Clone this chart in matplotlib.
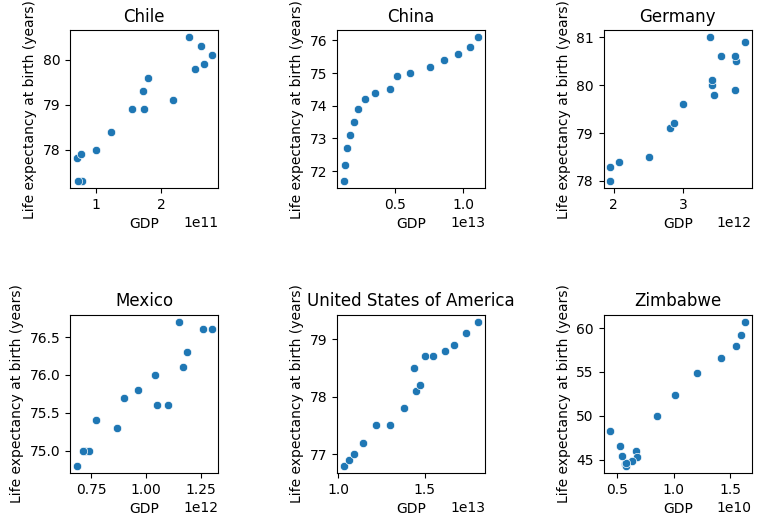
import matplotlib
matplotlib.use("Agg")
import matplotlib.pyplot as plt
import seaborn as sns
import pandas as pd

countries = ["Chile", "China", "Germany", "Mexico",
             "United States of America", "Zimbabwe"]

# GDP per year 2000-2015
chile_gdp = [7.786e10, 7.098e10, 6.974e10, 7.564e10, 9.921e10, 1.229e11, 1.547e11, 1.737e11,
             1.791e11, 1.723e11, 2.185e11, 2.520e11, 2.670e11, 2.780e11, 2.610e11, 2.430e11]
chile_le = [77.3, 77.3, 77.8, 77.9, 78.0, 78.4, 78.9, 78.9,
            79.6, 79.3, 79.1, 79.8, 79.9, 80.1, 80.3, 80.5]

china_gdp = [1.211e12, 1.339e12, 1.471e12, 1.660e12, 1.955e12, 2.286e12, 2.752e12, 3.552e12,
             4.598e12, 5.110e12, 6.100e12, 7.570e12, 8.560e12, 9.610e12, 1.050e13, 1.110e13]
china_le = [71.7, 72.2, 72.7, 73.1, 73.5, 73.9, 74.2, 74.4,
            74.5, 74.9, 75.0, 75.2, 75.4, 75.6, 75.8, 76.1]

germany_gdp = [1.95e12, 1.95e12, 2.08e12, 2.50e12, 2.81e12, 2.86e12, 3.00e12, 3.44e12,
               3.75e12, 3.42e12, 3.42e12, 3.76e12, 3.54e12, 3.75e12, 3.89e12, 3.38e12]
germany_le = [78.0, 78.3, 78.4, 78.5, 79.1, 79.2, 79.6, 79.8,
              79.9, 80.0, 80.1, 80.5, 80.6, 80.6, 80.9, 81.0]

mexico_gdp = [6.84e11, 7.24e11, 7.41e11, 7.13e11, 7.70e11, 8.66e11, 9.65e11, 1.04e12,
              1.10e12, 9.00e11, 1.05e12, 1.17e12, 1.19e12, 1.26e12, 1.30e12, 1.15e12]
mexico_le = [74.8, 75.0, 75.0, 75.0, 75.4, 75.3, 75.8, 76.0,
             75.6, 75.7, 75.6, 76.1, 76.3, 76.6, 76.6, 76.7]

usa_gdp = [1.03e13, 1.06e13, 1.09e13, 1.14e13, 1.22e13, 1.30e13, 1.38e13, 1.45e13,
           1.47e13, 1.44e13, 1.50e13, 1.55e13, 1.62e13, 1.67e13, 1.74e13, 1.81e13]
usa_le = [76.8, 76.9, 77.0, 77.2, 77.5, 77.5, 77.8, 78.1,
          78.2, 78.5, 78.7, 78.7, 78.8, 78.9, 79.1, 79.3]

zimbabwe_gdp = [6.69e9, 6.78e9, 6.34e9, 5.73e9, 5.81e9, 5.76e9, 5.44e9, 5.29e9,
                4.42e9, 8.57e9, 1.01e10, 1.21e10, 1.42e10, 1.55e10, 1.59e10, 1.63e10]
zimbabwe_le = [46.0, 45.3, 44.8, 44.5, 44.3, 44.6, 45.4, 46.6,
               48.2, 50.0, 52.4, 54.9, 56.6, 58.0, 59.2, 60.7]

gdp = [chile_gdp, china_gdp, germany_gdp, mexico_gdp, usa_gdp, zimbabwe_gdp]
le = [chile_le, china_le, germany_le, mexico_le, usa_le, zimbabwe_le]

fig, axes = plt.subplots(2, 3, figsize=(7.61, 5.26), dpi=100)
fig.subplots_adjust(left=0.092, right=0.988, top=0.943, bottom=0.101,
                    wspace=0.80, hspace=0.80)

for ax, name, g, l in zip(axes.flat, countries, gdp, le):
    df = pd.DataFrame({"GDP": g, "Life expectancy at birth (years)": l})
    sns.scatterplot(data=df, x="GDP", y="Life expectancy at birth (years)", ax=ax)
    ax.set_title(name)

fig.savefig("out.png")
